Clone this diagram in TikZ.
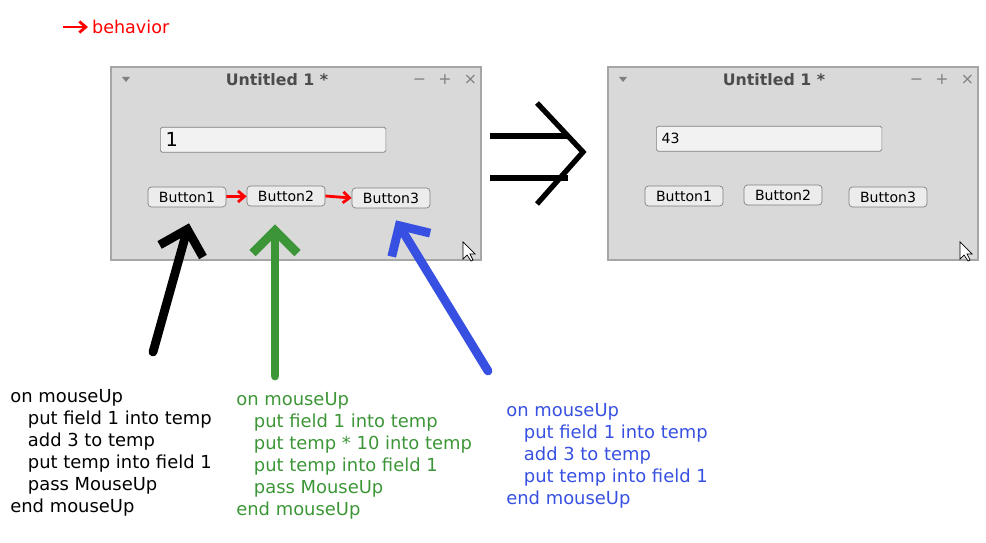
\documentclass[tikz,border=0pt]{standalone}
\usepackage{fontspec}
\setmainfont{DejaVu Sans}
\usetikzlibrary{calc,positioning,arrows.meta}
\definecolor{codegreen}{RGB}{60,150,55}
\definecolor{codeblue}{RGB}{55,80,225}
\tikzset{>={Straight Barb[width=1.0mm,length=1.0mm]}}
\tikzset{win/.style = {draw=gray!70, fill=gray!30, line width=0.6pt},
        field/.style = {draw=gray, fill=gray!10, rounded corners=1pt, minimum width=4.5cm, minimum height=0.5cm, inner sep=3pt, anchor=north west, align=left, text width=4.3cm},
        btn/.style = {draw=gray, fill=gray!15, rounded corners=2pt, minimum width=1.56cm, minimum height=0.4cm, inner sep=0pt, font=\fontsize{8}{9}\selectfont},
        code/.style = {align=left, anchor=north west, inner sep=0pt, font=\fontsize{10.2}{12.5}\selectfont},
        red arrow/.style = {red, line width=1.6pt, -{Straight Barb[width=2.2mm,length=1.3mm]}},
        big arrow/.style = {line width=5pt, line cap=round, -{Straight Barb[width=9mm,length=4.5mm]}}
    }
\begin{document}
\begin{tikzpicture}[x=0.02cm, y=-0.02cm]
  \useasboundingbox (0,0) rectangle (986,543);
  % legend
  \coordinate (l0) at (63,27);
  \coordinate (l1) at (88,27);
  \draw[red arrow] (l0) -- (l1);
  \node[red, anchor=west, inner sep=1pt, font=\fontsize{10}{12}\selectfont] (leg) at (90,27) {behavior};

  % windows
  \foreach \n/\x in {a/111, b/608} {
    \draw[win] (\x,67) rectangle ++(370,193);
    \node[font=\bfseries\fontsize{9}{10}\selectfont, text=gray!60!black] (t\n) at (\x+166,80) {Untitled 1 *};
    \fill[gray] (\x+11,77) -- ++(8,0) -- ++(-4,5) -- cycle;
    \node[text=gray, font=\fontsize{9}{10}\selectfont] at (\x+334,80) {\textminus\hspace{7pt}+\hspace{7pt}×};
    \draw[fill=white, line width=0.4pt] (\x+352,242) -- ++(0,17) -- ++(4,-4) -- ++(4,6) -- ++(2,-1) -- ++(-3,-6) -- ++(5,0) -- cycle;
  }
  \node[field, font=\fontsize{11}{12}\selectfont] (fa) at (160,127) {1};
  \node[field, font=\fontsize{8}{9}\selectfont] (fb) at (656,126) {43};

  \node[btn] (a1) at (187,197) {Button1};
  \node[btn] (a2) at (286,196) {Button2};
  \node[btn] (a3) at (391,198) {Button3};
  \node[btn] (b1) at (684,196) {Button1};
  \node[btn] (b2) at (783,195) {Button2};
  \node[btn] (b3) at (888,197) {Button3};
  \draw[red arrow] (a1) -- (a2);
  \draw[red arrow] (a2.east) -- (a3.west);

  % implies
  \draw[line width=3pt] (490,136) -- (568,136);
  \draw[line width=3pt] (490,178) -- (568,178);
  \draw[line width=3pt] (537,103) -- (583,152) -- (537,204);

  % scripts
  \node[code] (s1) at (10,389) {on mouseUp\\
    \hspace*{10pt}put field 1 into temp\\
    \hspace*{10pt}add 3 to temp\\
    \hspace*{10pt}put temp into field 1\\
    \hspace*{10pt}pass MouseUp\\
    end mouseUp};
  \node[code, text=codegreen] (s2) at (236,392) {on mouseUp\\
    \hspace*{10pt}put field 1 into temp\\
    \hspace*{10pt}put temp * 10 into temp\\
    \hspace*{10pt}put temp into field 1\\
    \hspace*{10pt}pass MouseUp\\
    end mouseUp};
  \node[code, text=codeblue] (s3) at (506,403) {on mouseUp\\
    \hspace*{10pt}put field 1 into temp\\
    \hspace*{10pt}add 3 to temp\\
    \hspace*{10pt}put temp into field 1\\
    end mouseUp};

  \coordinate (p1) at (153,352);
  \coordinate (p2) at (275,376);
  \coordinate (p3) at (488,371);
  \draw[big arrow] (p1) -- ($(a1.south)+(2,16)$);
  \draw[big arrow, codegreen] (p2) -- ($(a2.south)+(-11,18)$);
  \draw[big arrow, codeblue] (p3) -- ($(a3.south)+(5,12)$);
\end{tikzpicture}
\end{document}
